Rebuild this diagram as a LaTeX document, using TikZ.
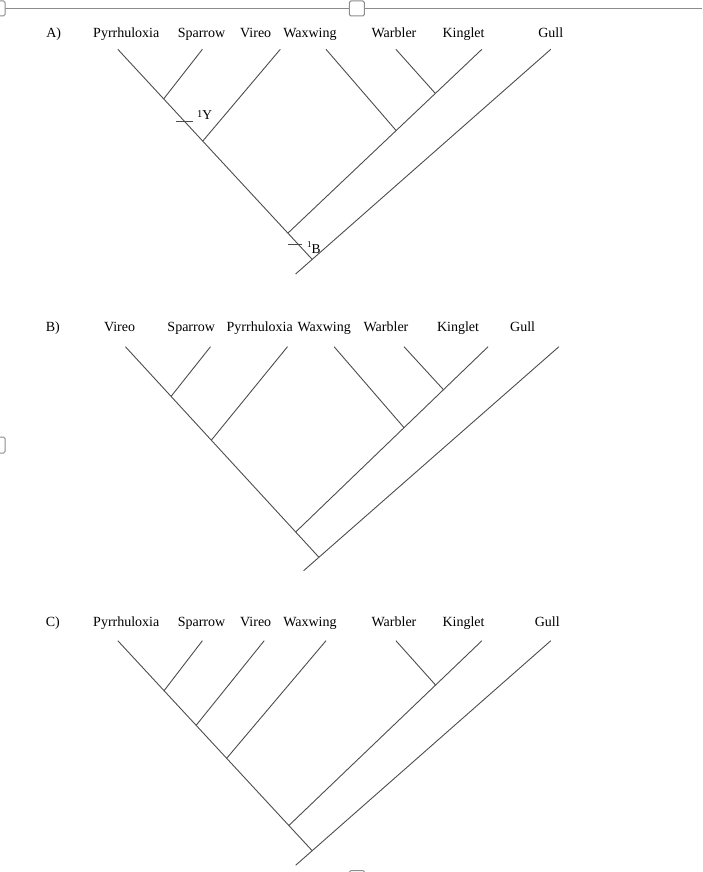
\documentclass[tikz,border=0pt]{standalone}
\usepackage{fontspec}
\setmainfont{Liberation Serif}
\usetikzlibrary{calc,positioning}

\tikzset{
    taxon/.style={anchor=base, inner sep=0pt, font=\fontsize{14}{16}\selectfont},
    branch/.style={draw=black!70, line width=0.9pt},
    charline/.style={draw=black!70, line width=0.9pt},
    charlabel/.style={anchor=base west, inner sep=0pt, font=\fontsize{13.5}{15}\selectfont},
    handlebox/.style={draw=black!45, fill=white, line width=1pt, rounded corners=1.5pt}
}

\begin{document}
\begin{tikzpicture}[x=1pt,y=-1pt]

    \useasboundingbox (0,0) rectangle (702,872);
    \clip (0,0) rectangle (702,872);

    % frame handles
    \draw[black!45, line width=1pt] (0,8.3) -- (702,8.3);
    \draw[handlebox] (-10,1) rectangle (5,16);
    \draw[handlebox] (349.3,1) rectangle (364.3,16);
    \draw[handlebox] (-10,437) rectangle (5,453);
    \draw[handlebox] (349.5,870.5) rectangle (364.5,885);

    % ---------- tree A

    \node[taxon] (Atitle) at (53.7,37.5) {A)};
    \node[taxon] (Apyr) at (126.3,37.5) {Pyrrhuloxia};
    \node[taxon] (Aspa) at (201.5,37.5) {Sparrow};
    \node[taxon] (Avir) at (255.7,37.5) {Vireo};
    \node[taxon] (Awax) at (309.9,37.5) {Waxwing};
    \node[taxon] (Awar) at (394,37.5) {Warbler};
    \node[taxon] (Akin) at (463.5,37.5) {Kinglet};
    \node[taxon] (Agul) at (550.8,37.5) {Gull};

    \coordinate (ApyrT) at (117.8,49.3);
    \coordinate (AspaT) at (202.4,49.3);
    \coordinate (AvirT) at (280.3,49.3);
    \coordinate (AwaxT) at (326,49.3);
    \coordinate (AwarT) at (395.9,49.3);
    \coordinate (AkinT) at (481.9,49.3);
    \coordinate (AgulT) at (550.8,49.3);
    \coordinate (Abase) at (295.6,274);
    \coordinate (Aroot) at ($(AgulT)!0.935!(Abase)$);
    \coordinate (AspaJ) at ($(ApyrT)!0.236!(Aroot)$);
    \coordinate (AvirJ) at ($(ApyrT)!0.437!(Aroot)$);
    \coordinate (AkinJ) at ($(ApyrT)!0.875!(Aroot)$);
    \coordinate (AwarJ) at ($(AkinT)!0.24!(AkinJ)$);
    \coordinate (AwaxJ) at ($(AkinT)!0.442!(AkinJ)$);

    \draw[branch] (ApyrT) -- (Aroot);
    \draw[branch] (AgulT) -- (Abase);
    \draw[branch] (AspaT) -- (AspaJ);
    \draw[branch] (AvirT) -- (AvirJ);
    \draw[branch] (AkinT) -- (AkinJ);
    \draw[branch] (AwaxT) -- (AwaxJ);
    \draw[branch] (AwarT) -- (AwarJ);

    \coordinate (AtickY) at (176,121.7);
    \draw[charline] (AtickY) -- ++(16.7,0);
    \node[charlabel] (AcharY) at (197,119.3) {\raisebox{1.5pt}{\fontsize{10.5}{10}\selectfont 1}Y};

    \coordinate (AtickB) at (288.3,244);
    \draw[charline] (AtickB) -- ++(13.4,0);
    \node[charlabel] (AcharB) at (307,253.3) {\raisebox{5.5pt}{\fontsize{9}{9}\selectfont 1}B};

    % ---------- tree B

    \node[taxon] (Btitle) at (52.8,331.5) {B)};
    \node[taxon] (Bvir) at (119.6,331.5) {Vireo};
    \node[taxon] (Bspa) at (191.2,331.5) {Sparrow};
    \node[taxon] (Bpyr) at (259.7,331.5) {Pyrrhuloxia};
    \node[taxon] (Bwax) at (324.2,331.5) {Waxwing};
    \node[taxon] (Bwar) at (386,331.5) {Warbler};
    \node[taxon] (Bkin) at (458,331.5) {Kinglet};
    \node[taxon] (Bgul) at (522.6,331.5) {Gull};

    \coordinate (BvirT) at (125.4,346.7);
    \coordinate (BspaT) at (210.5,346.7);
    \coordinate (BpyrT) at (287.5,346.7);
    \coordinate (BwaxT) at (334.1,346.7);
    \coordinate (BwarT) at (404,346.7);
    \coordinate (BkinT) at (488.1,346.7);
    \coordinate (BgulT) at (558.9,346.7);
    \coordinate (Bbase) at (303.6,570.7);
    \coordinate (Broot) at ($(BgulT)!0.94!(Bbase)$);
    \coordinate (BspaJ) at ($(BvirT)!0.236!(Broot)$);
    \coordinate (BpyrJ) at ($(BvirT)!0.444!(Broot)$);
    \coordinate (BkinJ) at ($(BvirT)!0.88!(Broot)$);
    \coordinate (BwarJ) at ($(BkinT)!0.232!(BkinJ)$);
    \coordinate (BwaxJ) at ($(BkinT)!0.437!(BkinJ)$);

    \draw[branch] (BvirT) -- (Broot);
    \draw[branch] (BgulT) -- (Bbase);
    \draw[branch] (BspaT) -- (BspaJ);
    \draw[branch] (BpyrT) -- (BpyrJ);
    \draw[branch] (BkinT) -- (BkinJ);
    \draw[branch] (BwaxT) -- (BwaxJ);
    \draw[branch] (BwarT) -- (BwarJ);

    % ---------- tree C

    \node[taxon] (Ctitle) at (52.8,626.5) {C)};
    \node[taxon] (Cpyr) at (126.3,626.5) {Pyrrhuloxia};
    \node[taxon] (Cspa) at (201.5,626.5) {Sparrow};
    \node[taxon] (Cvir) at (255.7,626.5) {Vireo};
    \node[taxon] (Cwax) at (309.9,626.5) {Waxwing};
    \node[taxon] (Cwar) at (394,626.5) {Warbler};
    \node[taxon] (Ckin) at (463.5,626.5) {Kinglet};
    \node[taxon] (Cgul) at (547.2,626.5) {Gull};

    \coordinate (CpyrT) at (117.8,640.7);
    \coordinate (CspaT) at (202.4,640.7);
    \coordinate (CvirT) at (264.2,640.7);
    \coordinate (CwaxT) at (326,640.7);
    \coordinate (CwarT) at (395.9,640.7);
    \coordinate (CkinT) at (481.9,640.7);
    \coordinate (CgulT) at (550.8,640.7);
    \coordinate (Cbase) at (295.6,865.3);
    \coordinate (Croot) at ($(CgulT)!0.935!(Cbase)$);
    \coordinate (CspaJ) at ($(CpyrT)!0.238!(Croot)$);
    \coordinate (CvirJ) at ($(CpyrT)!0.403!(Croot)$);
    \coordinate (CwaxJ) at ($(CpyrT)!0.56!(Croot)$);
    \coordinate (CkinJ) at ($(CpyrT)!0.88!(Croot)$);
    \coordinate (CwarJ) at ($(CkinT)!0.24!(CkinJ)$);

    \draw[branch] (CpyrT) -- (Croot);
    \draw[branch] (CgulT) -- (Cbase);
    \draw[branch] (CspaT) -- (CspaJ);
    \draw[branch] (CvirT) -- (CvirJ);
    \draw[branch] (CwaxT) -- (CwaxJ);
    \draw[branch] (CkinT) -- (CkinJ);
    \draw[branch] (CwarT) -- (CwarJ);

\end{tikzpicture}
\end{document}
